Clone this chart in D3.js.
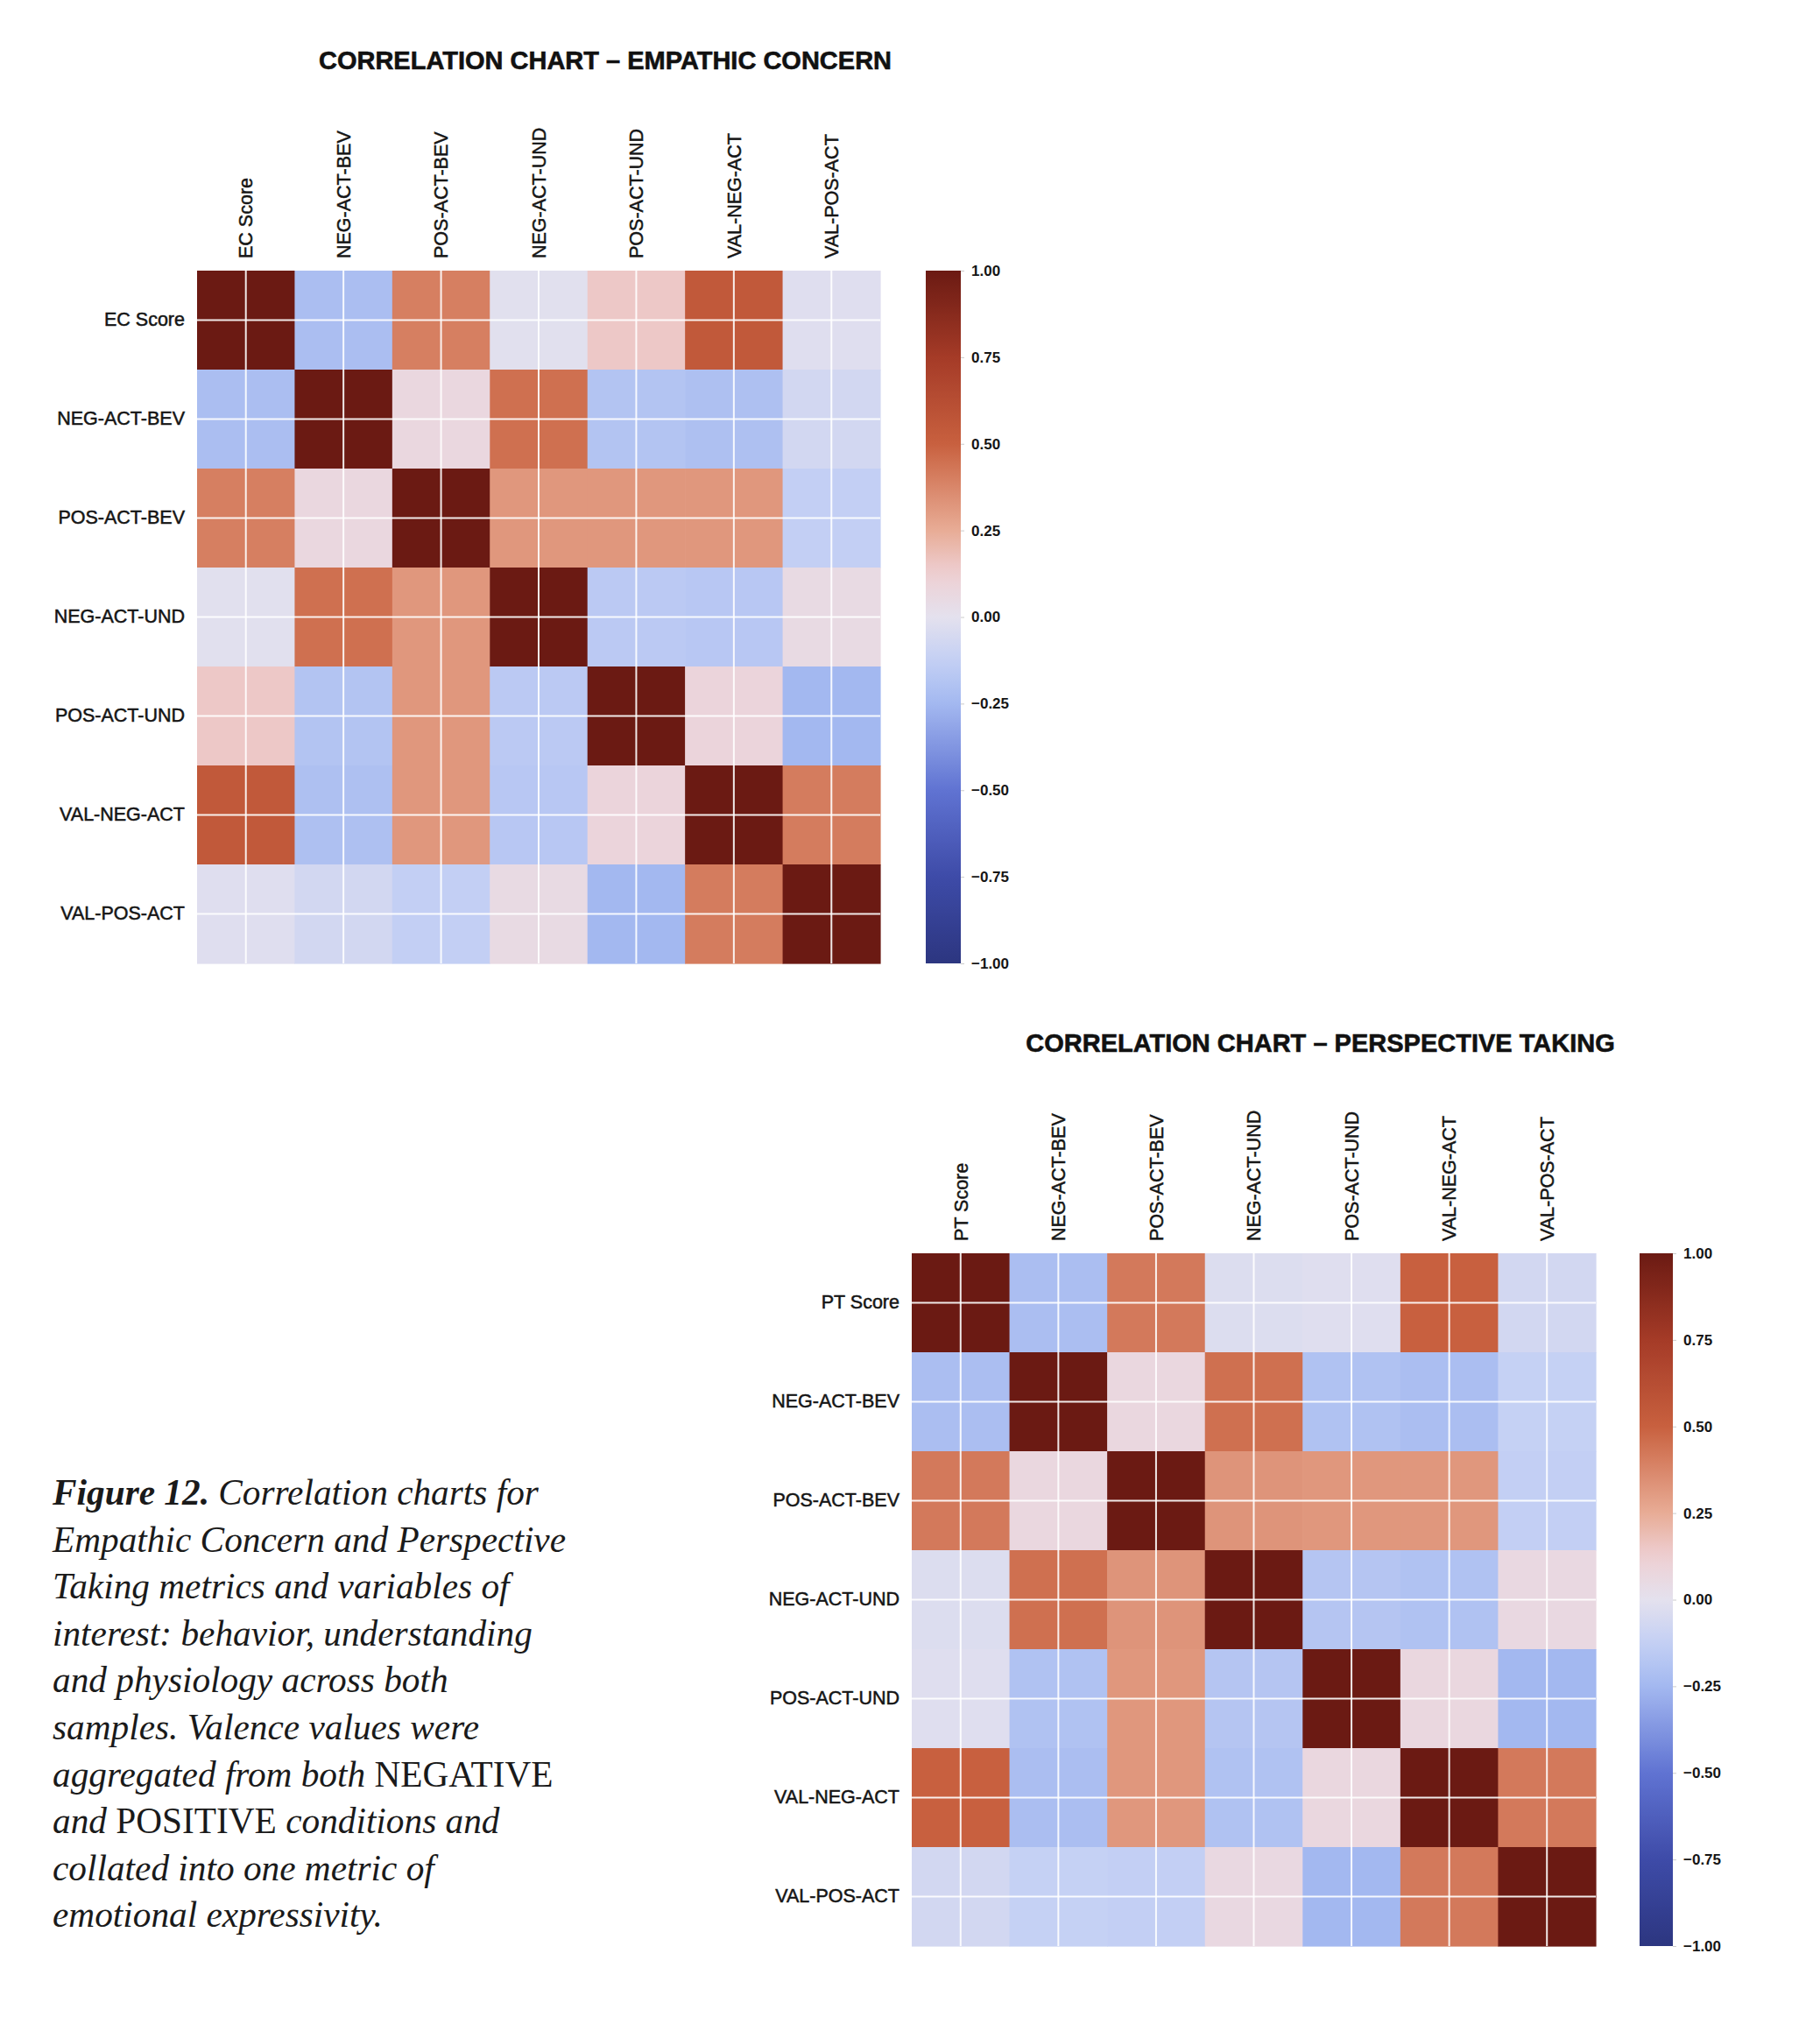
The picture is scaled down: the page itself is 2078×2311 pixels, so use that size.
<!DOCTYPE html>
<html>
<head>
<meta charset="utf-8">
<script src="https://cdn.jsdelivr.net/npm/d3@7"></script>
<style>
  body { margin: 0; background: #fff; }
</style>
</head>
<body>
<svg id="chart"></svg>
<script>
// ---- data ----
const ecLabels = ["EC Score", "NEG-ACT-BEV", "POS-ACT-BEV", "NEG-ACT-UND", "POS-ACT-UND", "VAL-NEG-ACT", "VAL-POS-ACT"];
const ptLabels = ["PT Score", "NEG-ACT-BEV", "POS-ACT-BEV", "NEG-ACT-UND", "POS-ACT-UND", "VAL-NEG-ACT", "VAL-POS-ACT"];

const ecValues = [
  [ 1.00, -0.22,  0.40, -0.01,  0.15,  0.55, -0.02],
  [-0.22,  1.00,  0.07,  0.45, -0.19, -0.21, -0.07],
  [ 0.40,  0.07,  1.00,  0.32,  0.32,  0.32, -0.13],
  [-0.01,  0.45,  0.32,  1.00, -0.16, -0.17,  0.05],
  [ 0.15, -0.19,  0.32, -0.16,  1.00,  0.09, -0.25],
  [ 0.55, -0.21,  0.32, -0.17,  0.09,  1.00,  0.41],
  [-0.02, -0.07, -0.13,  0.05, -0.25,  0.41,  1.00]
];

const ptValues = [
  [ 1.00, -0.22,  0.42, -0.03, -0.02,  0.50, -0.07],
  [-0.22,  1.00,  0.07,  0.45, -0.20, -0.22, -0.12],
  [ 0.42,  0.07,  1.00,  0.33,  0.32,  0.32, -0.13],
  [-0.03,  0.45,  0.33,  1.00, -0.18, -0.20,  0.06],
  [-0.02, -0.20,  0.32, -0.18,  1.00,  0.07, -0.25],
  [ 0.50, -0.22,  0.32, -0.20,  0.07,  1.00,  0.42],
  [-0.07, -0.12, -0.13,  0.06, -0.25,  0.42,  1.00]
];

const colorTicks = [1, 0.75, 0.5, 0.25, 0, -0.25, -0.5, -0.75, -1];

const captionLines = [
  [["Figure 12.", "bold"], [" Correlation charts for", "it"]],
  [["Empathic Concern and Perspective", "it"]],
  [["Taking metrics and variables of", "it"]],
  [["interest: behavior, understanding", "it"]],
  [["and physiology across both", "it"]],
  [["samples. Valence values were", "it"]],
  [["aggregated from both ", "it"], ["NEGATIVE", "rm"]],
  [["and ", "it"], ["POSITIVE", "rm"], [" conditions and", "it"]],
  [["collated into one metric of", "it"]],
  [["emotional expressivity.", "it"]]
];

// diverging palette sampled from the colour bar
const colorDomain = [-1, -0.75, -0.5, -0.25, -0.125, 0, 0.125, 0.25, 0.375, 0.5, 0.75, 1];
const colorRange = ["#2c3680", "#3e4ba8", "#6073d2", "#a3b8f0", "#c4d0f4", "#e4e1ee",
                    "#eecfd3", "#e8ac96", "#d9876a", "#c8603f", "#a53b27", "#6b1a13"];
const color = d3.scaleLinear().domain(colorDomain).range(colorRange)
  .interpolate(d3.interpolateRgb).clamp(true);

const W = 2078, H = 2311;
const svg = d3.select("#chart").attr("width", W).attr("height", H);
svg.append("rect").attr("width", W).attr("height", H).attr("fill", "#fff");

const labelFont = "'Liberation Sans', Arial, Helvetica, sans-serif";

function drawHeatmap(o) {
  const g = svg.append("g").attr("transform", `translate(${o.x0},${o.y0})`);
  const x = d3.scaleBand().domain(o.labels).range([0, o.w]);
  const y = d3.scaleBand().domain(o.labels).range([0, o.h]);

  const cells = [];
  o.values.forEach((row, i) => row.forEach((v, j) => cells.push({ r: o.labels[i], c: o.labels[j], v })));

  g.append("g").selectAll("rect")
    .data(cells)
    .join("rect")
    .attr("x", d => x(d.c))
    .attr("y", d => y(d.r))
    .attr("width", x.bandwidth() + 0.6)
    .attr("height", y.bandwidth() + 0.6)
    .attr("fill", d => color(d.v));

  // white grid lines through the cell centres
  const grid = g.append("g").attr("stroke", "#fff").attr("stroke-width", 2).attr("stroke-opacity", 0.9);
  grid.selectAll("line.v").data(o.labels).join("line").attr("class", "v")
    .attr("x1", d => x(d) + x.bandwidth() / 2).attr("x2", d => x(d) + x.bandwidth() / 2)
    .attr("y1", 0).attr("y2", o.h);
  grid.selectAll("line.h").data(o.labels).join("line").attr("class", "h")
    .attr("y1", d => y(d) + y.bandwidth() / 2).attr("y2", d => y(d) + y.bandwidth() / 2)
    .attr("x1", 0).attr("x2", o.w);

  // column labels (rotated)
  const xAxis = g.append("g").call(d3.axisTop(x).tickSize(0).tickPadding(0));
  xAxis.select(".domain").remove();
  xAxis.selectAll("text")
    .attr("transform", "rotate(-90)")
    .attr("x", 14).attr("y", 0).attr("dy", "0.36em")
    .attr("text-anchor", "start");

  // row labels
  const yAxis = g.append("g").call(d3.axisLeft(y).tickSize(0).tickPadding(14));
  yAxis.select(".domain").remove();

  [xAxis, yAxis].forEach(a => a.selectAll("text")
    .attr("font-family", labelFont).attr("font-size", 21.5)
    .attr("fill", "#151515").attr("stroke", "#151515").attr("stroke-width", 0.5));

  // title
  svg.append("text")
    .attr("x", o.x0 + o.w / 2 + 76).attr("y", o.y0 - 230)
    .attr("text-anchor", "middle")
    .attr("font-family", labelFont).attr("font-weight", "bold").attr("font-size", 29)
    .attr("fill", "#111").attr("stroke", "#111").attr("stroke-width", 0.6)
    .text(o.title);

  // colour bar
  const cy = d3.scaleLinear().domain([-1, 1]).range([o.h, 0]);
  const gradId = "grad-" + o.id;
  const grad = svg.append("defs").append("linearGradient").attr("id", gradId)
    .attr("x1", 0).attr("x2", 0).attr("y1", 1).attr("y2", 0);
  grad.selectAll("stop").data(d3.range(-1, 1.0001, 0.05)).join("stop")
    .attr("offset", d => (d + 1) / 2)
    .attr("stop-color", d => color(d));

  const bar = svg.append("g").attr("transform", `translate(${o.barX},${o.y0})`);
  bar.append("rect").attr("width", o.barW).attr("height", o.h).attr("fill", `url(#${gradId})`);
  const barAxis = bar.append("g").attr("transform", `translate(${o.barW},0)`)
    .call(d3.axisRight(cy).tickValues(colorTicks).tickSize(4).tickPadding(8).tickFormat(d3.format(".2f")));
  barAxis.select(".domain").remove();
  barAxis.selectAll("line").attr("stroke", "#ccc");
  barAxis.selectAll("text")
    .attr("font-family", labelFont).attr("font-weight", "bold").attr("font-size", 17)
    .attr("fill", "#151515");
}

drawHeatmap({ id: "ec", labels: ecLabels, values: ecValues,
  title: "CORRELATION CHART \u2013 EMPATHIC CONCERN",
  x0: 225, y0: 309, w: 780, h: 791, barX: 1057, barW: 40 });

drawHeatmap({ id: "pt", labels: ptLabels, values: ptValues,
  title: "CORRELATION CHART \u2013 PERSPECTIVE TAKING",
  x0: 1041, y0: 1431, w: 781, h: 791, barX: 1872, barW: 38 });

// caption
const cap = svg.append("text")
  .attr("font-family", "'Liberation Serif', 'DejaVu Serif', serif")
  .attr("font-size", 41.3)
  .attr("fill", "#1a1a1a");
captionLines.forEach((line, i) => {
  line.forEach(([txt, style], k) => {
    const t = cap.append("tspan").text(txt)
      .attr("font-style", style === "rm" ? "normal" : "italic")
      .attr("font-weight", style === "bold" ? "bold" : "normal");
    if (k === 0) t.attr("x", 60).attr("y", 1718 + i * 53.6);
  });
});
</script>
</body>
</html>
